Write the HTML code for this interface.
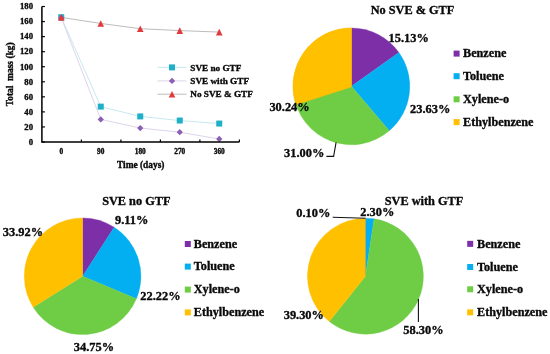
<!DOCTYPE html><html><head><meta charset="utf-8"><title>Figure</title><style>html,body{margin:0;padding:0;background:#fff}svg{display:block}text{font-family:"Liberation Serif","DejaVu Serif",serif;font-weight:bold;fill:#0a0a0a;stroke:#0a0a0a;stroke-width:0.35px;stroke-linejoin:round}</style></head><body>
<svg width="550" height="354" viewBox="0 0 550 354">
<rect width="550" height="354" fill="#fff"/>
<polyline points="61.25,17.19 100.75,106.62 140.25,116.41 179.75,120.55 219.25,123.56" fill="none" stroke="#bfe6ee" stroke-width="0.9"/>
<polyline points="61.25,17.79 100.75,119.42 140.25,128.07 179.75,132.21 219.25,138.99" fill="none" stroke="#d9cfe8" stroke-width="0.9"/>
<polyline points="61.25,17.42 100.75,23.44 140.25,28.71 179.75,30.59 219.25,32.09" fill="none" stroke="#b4b4b4" stroke-width="0.9"/>
<rect x="58.25" y="14.19" width="6.00" height="6.00" fill="#1fb0c8"/>
<rect x="97.75" y="103.62" width="6.00" height="6.00" fill="#1fb0c8"/>
<rect x="137.25" y="113.41" width="6.00" height="6.00" fill="#1fb0c8"/>
<rect x="176.75" y="117.55" width="6.00" height="6.00" fill="#1fb0c8"/>
<rect x="216.25" y="120.56" width="6.00" height="6.00" fill="#1fb0c8"/>
<polygon points="61.25,14.64 64.40,17.79 61.25,20.94 58.10,17.79" fill="#8a5fb4"/>
<polygon points="100.75,116.27 103.90,119.42 100.75,122.57 97.60,119.42" fill="#8a5fb4"/>
<polygon points="140.25,124.92 143.40,128.07 140.25,131.22 137.10,128.07" fill="#8a5fb4"/>
<polygon points="179.75,129.06 182.90,132.21 179.75,135.36 176.60,132.21" fill="#8a5fb4"/>
<polygon points="219.25,135.84 222.40,138.99 219.25,142.14 216.10,138.99" fill="#8a5fb4"/>
<polygon points="61.25,14.12 64.55,20.72 57.95,20.72" fill="#e03a3c"/>
<polygon points="100.75,20.14 104.05,26.74 97.45,26.74" fill="#e03a3c"/>
<polygon points="140.25,25.41 143.55,32.01 136.95,32.01" fill="#e03a3c"/>
<polygon points="179.75,27.29 183.05,33.89 176.45,33.89" fill="#e03a3c"/>
<polygon points="219.25,28.79 222.55,35.39 215.95,35.39" fill="#e03a3c"/>
<path d="M41.9 6.5 V142.0 H239.4" fill="none" stroke="#000" stroke-width="1.5"/>
<path d="M41.9 142.00 h3" stroke="#000" stroke-width="1.2"/>
<text x="33" y="144.80" font-size="8.7" text-anchor="end">0</text>
<path d="M41.9 126.94 h3" stroke="#000" stroke-width="1.2"/>
<text x="33" y="129.74" font-size="8.7" text-anchor="end">20</text>
<path d="M41.9 111.89 h3" stroke="#000" stroke-width="1.2"/>
<text x="33" y="114.69" font-size="8.7" text-anchor="end">40</text>
<path d="M41.9 96.83 h3" stroke="#000" stroke-width="1.2"/>
<text x="33" y="99.63" font-size="8.7" text-anchor="end">60</text>
<path d="M41.9 81.78 h3" stroke="#000" stroke-width="1.2"/>
<text x="33" y="84.58" font-size="8.7" text-anchor="end">80</text>
<path d="M41.9 66.72 h3" stroke="#000" stroke-width="1.2"/>
<text x="33" y="69.52" font-size="8.7" text-anchor="end">100</text>
<path d="M41.9 51.67 h3" stroke="#000" stroke-width="1.2"/>
<text x="33" y="54.47" font-size="8.7" text-anchor="end">120</text>
<path d="M41.9 36.61 h3" stroke="#000" stroke-width="1.2"/>
<text x="33" y="39.41" font-size="8.7" text-anchor="end">140</text>
<path d="M41.9 21.56 h3" stroke="#000" stroke-width="1.2"/>
<text x="33" y="24.36" font-size="8.7" text-anchor="end">160</text>
<path d="M41.9 6.50 h3" stroke="#000" stroke-width="1.2"/>
<text x="33" y="9.30" font-size="8.7" text-anchor="end">180</text>
<path d="M81.40 142.0 v-2.4" stroke="#000" stroke-width="1.2"/>
<path d="M120.90 142.0 v-2.4" stroke="#000" stroke-width="1.2"/>
<path d="M160.40 142.0 v-2.4" stroke="#000" stroke-width="1.2"/>
<path d="M199.90 142.0 v-2.4" stroke="#000" stroke-width="1.2"/>
<path d="M239.40 142.0 v-2.4" stroke="#000" stroke-width="1.2"/>
<text x="61.25" y="153.7" font-size="7.3" text-anchor="middle">0</text>
<text x="100.75" y="153.7" font-size="7.3" text-anchor="middle">90</text>
<text x="140.25" y="153.7" font-size="7.3" text-anchor="middle">180</text>
<text x="179.75" y="153.7" font-size="7.3" text-anchor="middle">270</text>
<text x="219.25" y="153.7" font-size="7.3" text-anchor="middle">360</text>
<text x="140.75" y="167.7" font-size="9.4" text-anchor="middle">Time (days)</text>
<text transform="translate(13.3,74.3) rotate(-90)" font-size="9.45" text-anchor="middle">Total&#160; mass (kg)</text>
<path d="M157.5 67.4 H186.5" stroke="#bfe6ee" stroke-width="0.9"/>
<rect x="169.00" y="64.40" width="6.00" height="6.00" fill="#1fb0c8"/>
<text x="190.3" y="70.50" font-size="9.2">SVE no GTF</text>
<path d="M157.5 80.9 H186.5" stroke="#d9cfe8" stroke-width="0.9"/>
<polygon points="172.00,77.75 175.15,80.90 172.00,84.05 168.85,80.90" fill="#8a5fb4"/>
<text x="190.3" y="84.00" font-size="9.2">SVE with GTF</text>
<path d="M157.5 94.2 H186.5" stroke="#b4b4b4" stroke-width="0.9"/>
<polygon points="172.00,90.90 175.30,97.50 168.70,97.50" fill="#e03a3c"/>
<text x="190.3" y="97.30" font-size="9.2">No SVE &amp; GTF</text>
<text x="412.5" y="14.4" font-size="12.3" text-anchor="middle">No SVE &amp; GTF</text>
<path d="M351.4 86.35 L351.40 27.95 A58.4 58.4 0 0 1 398.93 52.41 Z" fill="#7d2fa8" stroke="#7d2fa8" stroke-width="0.3"/>
<path d="M351.4 86.35 L398.93 52.41 A58.4 58.4 0 0 1 389.30 130.78 Z" fill="#03aff0" stroke="#03aff0" stroke-width="0.3"/>
<path d="M351.4 86.35 L389.30 130.78 A58.4 58.4 0 0 1 293.58 94.54 Z" fill="#6ecd44" stroke="#6ecd44" stroke-width="0.3"/>
<path d="M351.4 86.35 L293.58 94.54 A58.4 58.4 0 0 1 351.40 27.95 Z" fill="#ffc000" stroke="#ffc000" stroke-width="0.3"/>
<path d="M351.4 87.05 L295.99 104.79 A58.4 58.4 0 0 1 351.4 27.95 Z" fill="#ffc000" stroke="#ffc000" stroke-width="0.3"/>
<rect x="453.60" y="50.60" width="6" height="6" fill="#7d2fa8"/>
<text x="463" y="57.30" font-size="12.2">Benzene</text>
<rect x="453.60" y="73.20" width="6" height="6" fill="#03aff0"/>
<text x="463" y="79.90" font-size="12.2">Toluene</text>
<rect x="453.60" y="96.30" width="6" height="6" fill="#6ecd44"/>
<text x="463" y="103.00" font-size="12.2">Xylene-o</text>
<rect x="453.60" y="119.10" width="6" height="6" fill="#ffc000"/>
<text x="463" y="125.80" font-size="12.2">Ethylbenzene</text>
<text x="388.6" y="41.6" font-size="12.4" text-anchor="start">15.13%</text>
<text x="410.1" y="113.3" font-size="12.4" text-anchor="start">23.63%</text>
<text x="269.4" y="110.6" font-size="12.4" text-anchor="start">30.24%</text>
<text x="284" y="156.5" font-size="12.4" text-anchor="start">31.00%</text>
<path d="M336.1 142.3 L333.6 156.4 H326.4" fill="none" stroke="#111" stroke-width="1.1"/>
<text x="136.3" y="205" font-size="12.3" text-anchor="middle">SVE no GTF</text>
<path d="M82.6 276.25 L82.60 217.90 A58.35 58.35 0 0 1 114.21 227.20 Z" fill="#7d2fa8" stroke="#7d2fa8" stroke-width="0.3"/>
<path d="M82.6 276.25 L114.21 227.20 A58.35 58.35 0 0 1 136.40 298.85 Z" fill="#03aff0" stroke="#03aff0" stroke-width="0.3"/>
<path d="M82.6 276.25 L136.40 298.85 A58.35 58.35 0 0 1 33.18 307.27 Z" fill="#6ecd44" stroke="#6ecd44" stroke-width="0.3"/>
<path d="M82.6 276.25 L33.18 307.27 A58.35 58.35 0 0 1 82.60 217.90 Z" fill="#ffc000" stroke="#ffc000" stroke-width="0.3"/>
<rect x="184.80" y="241.00" width="6" height="6" fill="#7d2fa8"/>
<text x="193.8" y="247.70" font-size="12.2">Benzene</text>
<rect x="184.80" y="263.60" width="6" height="6" fill="#03aff0"/>
<text x="193.8" y="270.30" font-size="12.2">Toluene</text>
<rect x="184.80" y="286.60" width="6" height="6" fill="#6ecd44"/>
<text x="193.8" y="293.30" font-size="12.2">Xylene-o</text>
<rect x="184.80" y="309.40" width="6" height="6" fill="#ffc000"/>
<text x="193.8" y="316.10" font-size="12.2">Ethylbenzene</text>
<text x="115" y="224" font-size="12.4" text-anchor="start">9.11%</text>
<text x="140.3" y="300.4" font-size="12.4" text-anchor="start">22.22%</text>
<text x="73.8" y="351.2" font-size="12.4" text-anchor="start">34.75%</text>
<text x="2.8" y="236.1" font-size="12.4" text-anchor="start">33.92%</text>
<text x="424" y="204.5" font-size="12.3" text-anchor="middle">SVE with GTF</text>
<path d="M365.4 276.2 L365.40 218.20 A58 58 0 0 1 365.76 218.20 Z" fill="#7d2fa8" stroke="#7d2fa8" stroke-width="0.3"/>
<path d="M365.4 276.2 L365.76 218.20 A58 58 0 0 1 374.11 218.86 Z" fill="#03aff0" stroke="#03aff0" stroke-width="0.3"/>
<path d="M365.4 276.2 L374.11 218.86 A58 58 0 1 1 329.28 321.58 Z" fill="#6ecd44" stroke="#6ecd44" stroke-width="0.3"/>
<path d="M365.4 276.2 L329.28 321.58 A58 58 0 0 1 365.40 218.20 Z" fill="#ffc000" stroke="#ffc000" stroke-width="0.3"/>
<rect x="467.20" y="240.85" width="6" height="6" fill="#7d2fa8"/>
<text x="477" y="247.55" font-size="12.2">Benzene</text>
<rect x="467.20" y="264.00" width="6" height="6" fill="#03aff0"/>
<text x="477" y="270.70" font-size="12.2">Toluene</text>
<rect x="467.20" y="286.30" width="6" height="6" fill="#6ecd44"/>
<text x="477" y="293.00" font-size="12.2">Xylene-o</text>
<rect x="467.20" y="309.35" width="6" height="6" fill="#ffc000"/>
<text x="477" y="316.05" font-size="12.2">Ethylbenzene</text>
<text x="296.3" y="216.8" font-size="12.4" text-anchor="start">0.10%</text>
<text x="360.3" y="216" font-size="12.4" text-anchor="start">2.30%</text>
<text x="403.25" y="334.1" font-size="12.4" text-anchor="start">58.30%</text>
<text x="283.7" y="319.4" font-size="12.4" text-anchor="start">39.30%</text>
<path d="M332.7 217.2 L365.5 218.3" fill="none" stroke="#111" stroke-width="1.1"/>
<path d="M418.4 299 V322" fill="none" stroke="#111" stroke-width="1.1"/>
</svg></body></html>
